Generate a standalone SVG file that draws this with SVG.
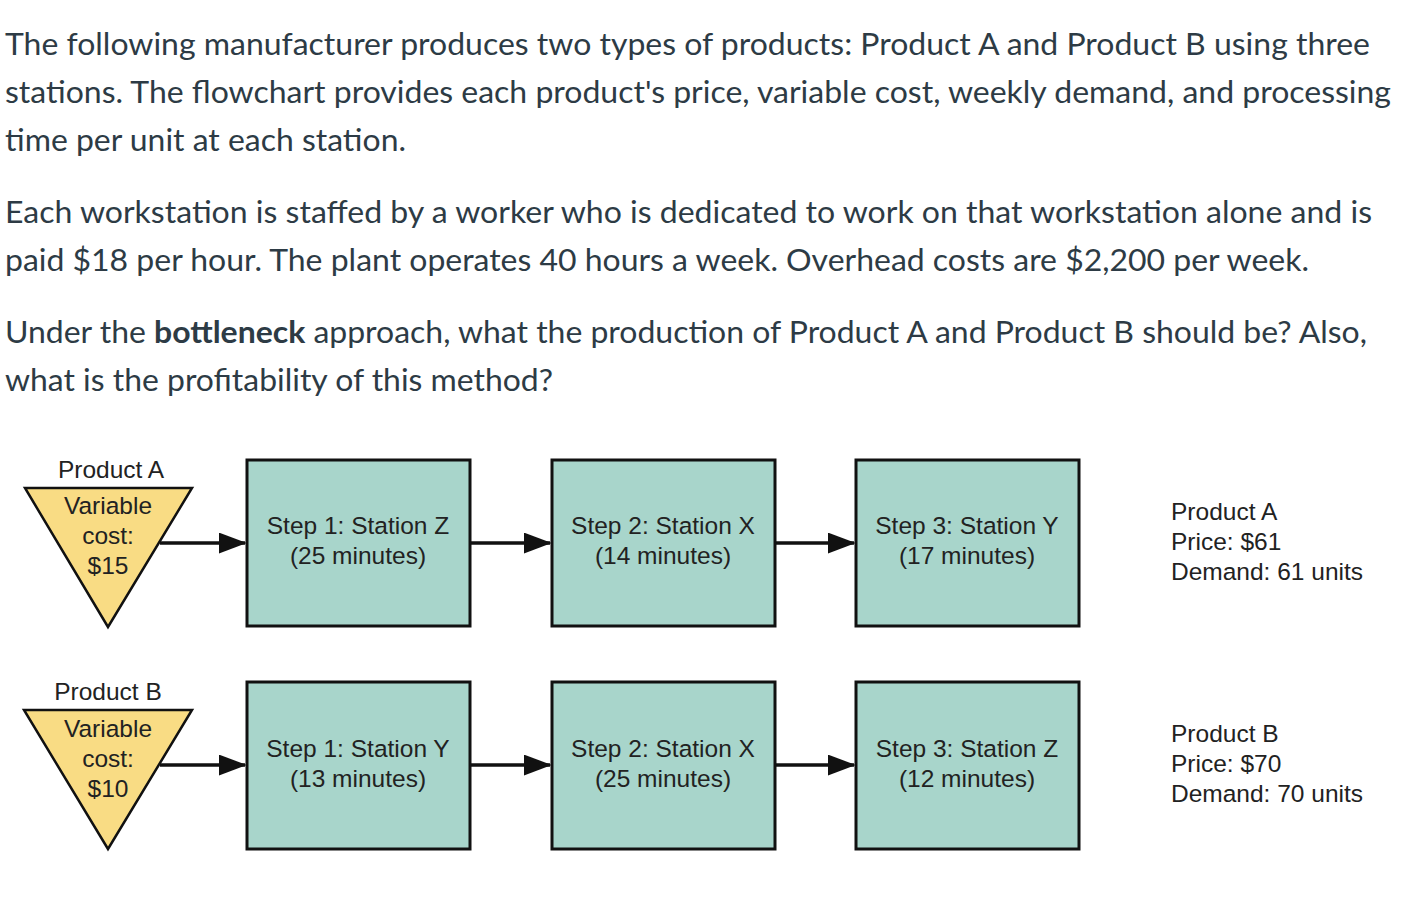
<svg xmlns="http://www.w3.org/2000/svg" width="1418" height="908" viewBox="0 0 1418 908">
<defs>
<style>
.p{font-family:Lato,"Liberation Sans",sans-serif;font-size:30.5px;fill:#2d3b45}
.d{font-family:"Liberation Sans",Arial,sans-serif;font-size:24.5px;fill:#222}
.box{fill:#a8d5cb;stroke:#111;stroke-width:3}
.tri{fill:#f9dc84;stroke:#111;stroke-width:2.5}
.c{stroke:#111;stroke-width:3.5;fill:none;marker-end:url(#ah)}
</style>
<marker id="ah" markerWidth="8" markerHeight="6" refX="7.5" refY="3" orient="auto" markerUnits="strokeWidth"><path d="M0,0 L8,3 L0,6 z" fill="#111"/></marker>
</defs>
<rect width="1418" height="908" fill="#fff"/>
<g id="question">
<text class="p" x="5" y="55" textLength="1365" lengthAdjust="spacingAndGlyphs">The following manufacturer produces two types of products: Product A and Product B using three</text>
<text class="p" x="5" y="103" textLength="1386" lengthAdjust="spacingAndGlyphs">stations. The flowchart provides each product's price, variable cost, weekly demand, and processing</text>
<text class="p" x="5" y="151" textLength="401" lengthAdjust="spacingAndGlyphs">time per unit at each station.</text>
<text class="p" x="5" y="223" textLength="1367" lengthAdjust="spacingAndGlyphs">Each workstation is staffed by a worker who is dedicated to work on that workstation alone and is</text>
<text class="p" x="5" y="271" textLength="1304" lengthAdjust="spacingAndGlyphs">paid $18 per hour. The plant operates 40 hours a week. Overhead costs are $2,200 per week.</text>
<text class="p" x="5" y="343" textLength="1362" lengthAdjust="spacingAndGlyphs">Under the <tspan font-weight="bold">bottleneck</tspan> approach, what the production of Product A and Product B should be? Also,</text>
<text class="p" x="5" y="391" textLength="548" lengthAdjust="spacingAndGlyphs">what is the profitability of this method?</text>
</g>
<g id="connectors">
<path class="c" d="M160,543 H245"/>
<path class="c" d="M470,543 H550"/>
<path class="c" d="M775,543 H854"/>
<path class="c" d="M160,765 H245"/>
<path class="c" d="M470,765 H550"/>
<path class="c" d="M775,765 H854"/>
</g>
<g id="costA">
<text class="d" x="111" y="478" text-anchor="middle">Product A</text>
<path class="tri" d="M25,488 H192 L108,627 z"/>
<text class="d" x="108" y="514" text-anchor="middle">Variable</text>
<text class="d" x="108" y="544" text-anchor="middle">cost:</text>
<text class="d" x="108" y="574" text-anchor="middle">$15</text>
</g>
<g id="a1"><rect class="box" x="247" y="460" width="223" height="166"/><text class="d" x="358" y="534" text-anchor="middle">Step 1: Station Z</text><text class="d" x="358" y="564" text-anchor="middle">(25 minutes)</text></g>
<g id="a2"><rect class="box" x="552" y="460" width="223" height="166"/><text class="d" x="663" y="534" text-anchor="middle">Step 2: Station X</text><text class="d" x="663" y="564" text-anchor="middle">(14 minutes)</text></g>
<g id="a3"><rect class="box" x="856" y="460" width="223" height="166"/><text class="d" x="967" y="534" text-anchor="middle">Step 3: Station Y</text><text class="d" x="967" y="564" text-anchor="middle">(17 minutes)</text></g>
<g id="infoA"><text class="d" x="1171" y="520">Product A</text><text class="d" x="1171" y="550">Price: $61</text><text class="d" x="1171" y="580">Demand: 61 units</text></g>
<g id="costB">
<text class="d" x="108" y="700" text-anchor="middle">Product B</text>
<path class="tri" d="M24,710 H192 L108,849 z"/>
<text class="d" x="108" y="737" text-anchor="middle">Variable</text>
<text class="d" x="108" y="767" text-anchor="middle">cost:</text>
<text class="d" x="108" y="797" text-anchor="middle">$10</text>
</g>
<g id="b1"><rect class="box" x="247" y="682" width="223" height="167"/><text class="d" x="358" y="757" text-anchor="middle">Step 1: Station Y</text><text class="d" x="358" y="787" text-anchor="middle">(13 minutes)</text></g>
<g id="b2"><rect class="box" x="552" y="682" width="223" height="167"/><text class="d" x="663" y="757" text-anchor="middle">Step 2: Station X</text><text class="d" x="663" y="787" text-anchor="middle">(25 minutes)</text></g>
<g id="b3"><rect class="box" x="856" y="682" width="223" height="167"/><text class="d" x="967" y="757" text-anchor="middle">Step 3: Station Z</text><text class="d" x="967" y="787" text-anchor="middle">(12 minutes)</text></g>
<g id="infoB"><text class="d" x="1171" y="742">Product B</text><text class="d" x="1171" y="772">Price: $70</text><text class="d" x="1171" y="802">Demand: 70 units</text></g>
</svg>
